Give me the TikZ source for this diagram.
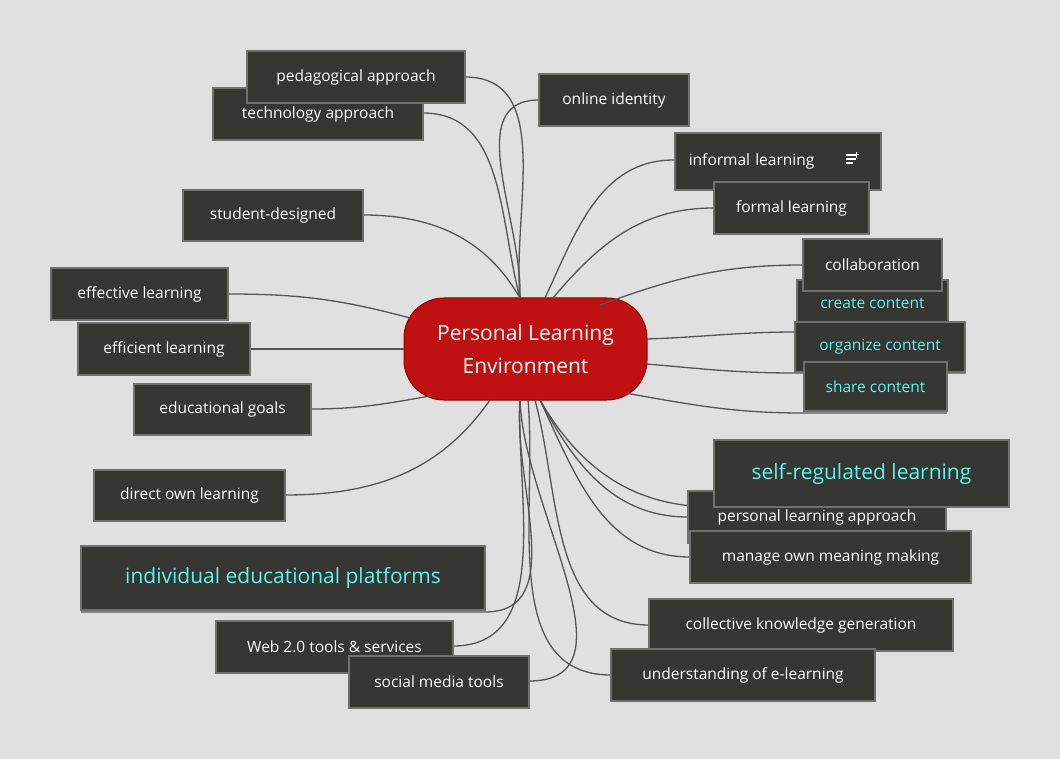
\documentclass[tikz,border=0pt]{standalone}
\usepackage{fontspec}
\setmainfont{Open Sans}
\begin{document}
\begin{tikzpicture}[x=1pt,y=-1pt,
 bx/.style={draw=boxline,fill=boxfill,line width=1.6pt,inner sep=0pt,text=white,font=\fontsize{15.5}{18}\selectfont},
 cy/.style={text=cyantxt},
 big/.style={font=\fontsize{21}{24}\selectfont},
 conn/.style={draw=connc,line width=1.3pt}]
\definecolor{boxfill}{HTML}{363632}
\definecolor{boxline}{HTML}{707070}
\definecolor{cyantxt}{HTML}{5EF2F0}
\definecolor{connc}{HTML}{555555}
\definecolor{bg}{HTML}{E0E0E0}
\definecolor{redc}{HTML}{BF1111}
\fill[bg] (0,0) rectangle (1060,759);
\useasboundingbox (0,0) rectangle (1060,759);
\newcommand{\bx}[7]{\node[bx,#7,minimum width={#4-#2},minimum height={#5-#3}] (#1) at ({(#2+#4)/2},{(#3+#5)/2}) {#6};}
% central node
\node[fill=redc,draw=red!60!black,line width=1pt,rounded corners=40pt,minimum width=243,minimum height=102,text=white,align=center,font=\fontsize{21}{33}\selectfont] (c) at (525.5,349) {Personal Learning\\Environment};
% connectors (drawn before boxes)
\coordinate (t1) at (520,298); \coordinate (t2) at (545,298);
\coordinate (b1) at (520,400); \coordinate (b2) at (540,400);
\coordinate (tA) at (465,77); \coordinate (tB) at (423,113); \coordinate (tC) at (539,100);
\draw[conn] (t1) to[out=95,in=0] (tA);
\draw[conn] (t1) to[out=105,in=0] (tB);
\draw[conn] (t1) to[out=88,in=180] (tC);
\coordinate (rI) at (674,160); \coordinate (rF) at (714,208);
\draw[conn] (t2) to[out=65,in=180] (rI);
\draw[conn] (553,298) to[out=50,in=180] (rF);
\draw[conn] (600,305) to[out=20,in=180] (803,265);
\draw[conn] (647,339) to[out=2,in=180] (797,332);
\draw[conn] (647,364) to[out=-5,in=180] (795,373) -- (966,373);
\draw[conn] (625,393) to[out=-10,in=180] (804,413) -- (947,413);
% left
\draw[conn] (t1) to[out=120,in=0] (363,215);
\draw[conn] (410,318) to[out=165,in=0] (228,294);
\draw[conn] (c.west) -- (250,349);
\draw[conn] (430,396) to[out=190,in=0] (311,409);
\draw[conn] (490,400) to[out=235,in=0] (285,495);
% bottom
\draw[conn] (b1) to[out=-95,in=0] (485,612) -- (81,612);
\draw[conn] (b1) to[out=-92,in=0] (453,646);
\draw[conn] (b1) to[out=-88,in=0] (529,681);
\draw[conn] (b2) to[out=-60,in=180] (714,507) -- (1009,507);
\draw[conn] (b2) to[out=-62,in=180] (688,517);
\draw[conn] (b2) to[out=-65,in=180] (690,557);
\draw[conn] (535,400) to[out=-75,in=180] (649,625);
\draw[conn] (528,400) to[out=-85,in=180] (611,675);
% boxes
\bx{tech}{213}{88}{423}{140}{technology approach}{}
\bx{ped}{247}{51}{465}{103}{pedagogical approach}{}
\bx{onl}{539}{74}{689}{126}{online identity}{}
\node[bx,minimum width=206,minimum height=57,anchor=north west,text width=190,align=left] (inf) at (674,132) {\hspace*{6pt}informal learning};
\foreach \yy/\ww in {155/10,159/10,163/7} \draw[white,line width=1.1pt] (846,\yy) -- ++(\ww,0);
\draw[white,line width=1pt] (856,152) -- (856,158) (853,155) -- (859,155);
\bx{frm}{714}{182}{869}{234}{formal learning}{}
\bx{cre}{797}{280}{948}{326}{create content}{cy}
\bx{col}{803}{239}{942}{291}{collaboration}{}
\bx{org}{795}{322}{965}{372}{organize content}{cy}
\bx{sha}{804}{362}{947}{411}{share content}{cy}
\bx{pla}{688}{491}{946}{543}{\raisebox{-6pt}{personal learning approach}}{}
\bx{srl}{714}{440}{1009}{507}{self-regulated learning}{cy,big}
\bx{man}{690}{531}{971}{583}{manage own meaning making}{}
\bx{col2}{649}{599}{953}{651}{collective knowledge generation}{}
\bx{und}{611}{649}{875}{701}{understanding of e-learning}{}
\bx{web}{216}{621}{453}{673}{Web 2.0 tools \& services}{}
\bx{soc}{349}{656}{529}{708}{social media tools}{}
\bx{ind}{81}{546}{485}{610}{individual educational platforms}{cy,big}
\bx{dir}{94}{470}{285}{521}{direct own learning}{}
\bx{edu}{134}{384}{311}{435}{educational goals}{}
\bx{eff}{78}{323}{250}{375}{efficient learning}{}
\bx{efl}{51}{268}{228}{320}{effective learning}{}
\bx{stu}{183}{190}{363}{241}{student-designed}{}
\end{tikzpicture}
\end{document}
